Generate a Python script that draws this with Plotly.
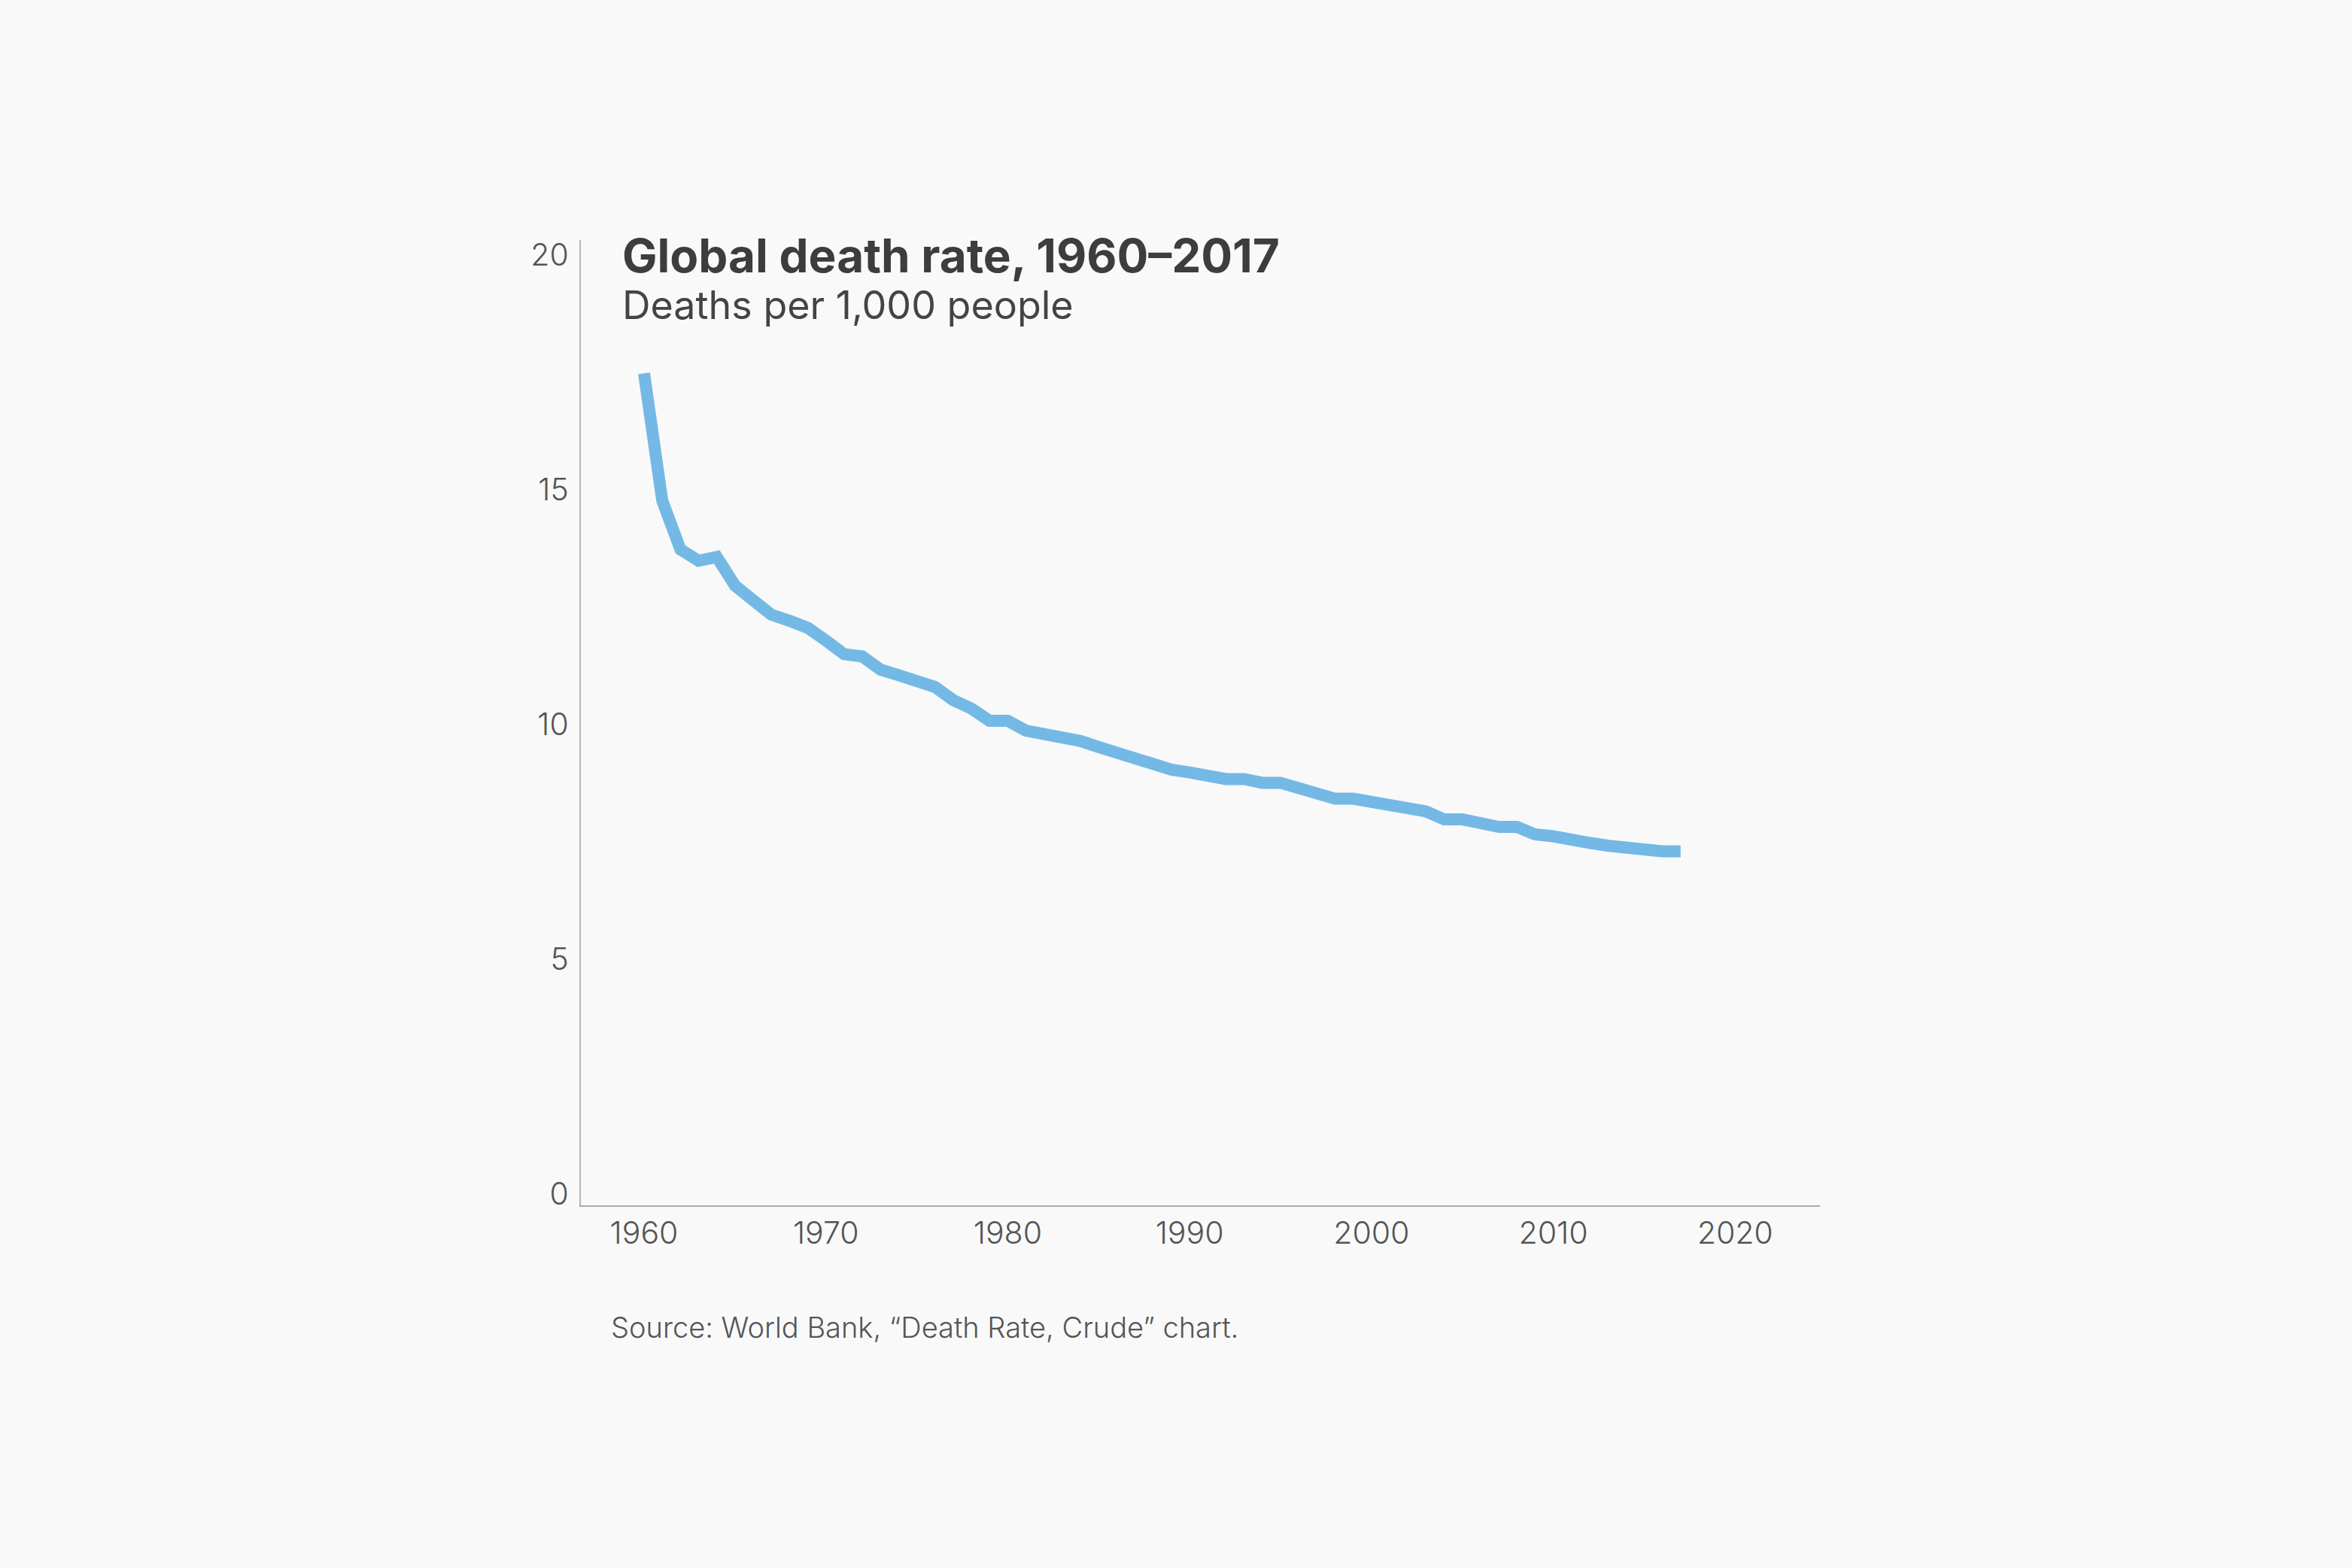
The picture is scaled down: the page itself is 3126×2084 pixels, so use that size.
import plotly.graph_objs as go

years = list(range(1960, 2018))
death_rate = [17.72, 15.01, 13.97, 13.73, 13.81, 13.20, 12.89, 12.58, 12.45, 12.30,
              12.03, 11.74, 11.69, 11.41, 11.29, 11.17, 11.04, 10.76, 10.58, 10.32,
              10.32, 10.11, 10.04, 10.00, 9.89, 9.76, 9.64, 9.51, 9.39, 9.28,
              9.22, 9.15, 9.08, 9.08, 9.00, 9.00, 8.89, 8.77, 8.66, 8.66,
              8.59, 8.53, 8.46, 8.39, 8.22, 8.22, 8.14, 8.06, 8.06, 7.90,
              7.86, 7.76, 7.72, 7.66, 7.61, 7.61, 7.54, 7.54]

x_ticks = [1960, 1970, 1980, 1990, 2000, 2010, 2020]
y_ticks = [0, 5, 10, 15, 20]

title_text = "<b>Global death rate, 1960–2017</b>"
subtitle_text = "Deaths per 1,000 people"
source_text = "Source: World Bank, “Death Rate, Crude” chart."

font_name = "Inter"
bg = "#f9f9f9"

# figure size and plot area in pixels
W, H = 3126, 2084
left, right, top, bottom = 772, 2419, 319, 1602


def px(x):
    return (x - left) / (right - left)


def py(y):
    return (bottom - y) / (bottom - top)


line = go.Scatter(x=years, y=death_rate, mode="lines",
                  line=dict(color="#74b9e5", width=16),
                  hoverinfo="skip", showlegend=False)

layout = go.Layout(
    width=W, height=H,
    paper_bgcolor=bg, plot_bgcolor=bg,
    margin=dict(l=left, r=W - right, t=top, b=H - bottom, pad=0),
    font=dict(family=font_name, color="#555555"),
    xaxis=dict(range=[1956.525, 2024.667], tickvals=x_ticks,
               showgrid=False, zeroline=False,
               showline=True, linecolor="#aaaaaa", linewidth=2,
               ticks="", ticklabelstandoff=0,
               tickfont=dict(size=41, color="#555555", weight=300)),
    # labels sit with their baseline on the value, as in the original
    yaxis=dict(range=[0, 20.56], tickvals=y_ticks,
               showgrid=False, zeroline=False,
               showline=True, linecolor="#b5b5b5", linewidth=2,
               ticks="", ticklabelstandoff=6, ticklabelshift=-15,
               tickfont=dict(size=41, color="#555555", weight=300)),
)

fig = go.Figure(data=[line], layout=layout)

# title, subtitle and source note
fig.add_annotation(text=title_text, xref="paper", yref="paper",
                   x=px(825), y=py(339.5), xanchor="left", yanchor="middle",
                   showarrow=False,
                   font=dict(family=font_name, size=62, color="#3d3d3d", weight=800))
fig.add_annotation(text=subtitle_text, xref="paper", yref="paper",
                   x=px(825), y=py(405.5), xanchor="left", yanchor="middle",
                   showarrow=False,
                   font=dict(family=font_name, size=52, color="#444444", weight=400))
fig.add_annotation(text=source_text, xref="paper", yref="paper",
                   x=px(810), y=py(1764), xanchor="left", yanchor="middle",
                   showarrow=False,
                   font=dict(family=font_name, size=38, color="#555555", weight=300))

# drop the default page margin so the figure fills the window
fig.write_html("out.html", config={"displayModeBar": False},
               post_script="document.body.style.margin = '0';")
